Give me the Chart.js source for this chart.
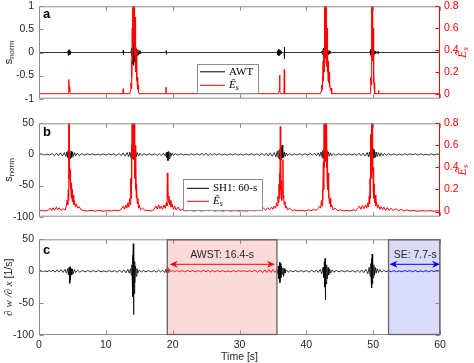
<!DOCTYPE html>
<html>
<head>
<meta charset="utf-8">
<script src="https://cdn.jsdelivr.net/npm/chart.js@4"></script>
<style>
  html, body { margin: 0; padding: 0; background: #fff; }
  #wrap { position: relative; width: 474px; height: 363px; overflow: hidden; }
  canvas { position: absolute; left: 0; }
</style>
</head>
<body>
<div id="wrap">
  <canvas id="pa" width="474" height="115" style="top:-5px"></canvas>
  <canvas id="pb" width="474" height="116" style="top:112px"></canvas>
  <canvas id="pc" width="474" height="135" style="top:228px"></canvas>
</div>
<script>
// ---- datos (tiempo [s], valor) ----
const xTicks = [0, 10, 20, 30, 40, 50, 60];
const sTicksA = [-1, -0.5, 0, 0.5, 1];
const sTicksB = [-100, -50, 0, 50];
const dwTicks = [-100, -50, 0, 50];
const esTicks = [0, 0.2, 0.4, 0.6, 0.8];

const awstSpan = [19.2, 35.6];
const seSpan = [52.3, 60];
const awstLabel = 'AWST: 16.4-s';
const seLabel = 'SE: 7.7-s';

// panel a: AWT (eje izq) y E_s (eje der)
const awtA = [[0,0],[4.2,0],[4.3,0.03],[4.35,-0.04],[4.4,0.05],[4.45,-0.06],[4.5,0.06],[4.55,-0.05],[4.6,0.05],[4.65,-0.04],[4.7,0.03],[4.75,-0.02],[4.8,0],
  [12.55,0],[12.6,0.05],[12.63,-0.05],[12.66,0],
  [13.7,0],[13.8,0.04],[13.85,-0.06],[13.9,0.1],[13.95,-0.12],[14.0,0.2],[14.05,-0.25],[14.1,0.3],[14.15,-0.28],[14.2,0.25],[14.25,-0.2],[14.3,0.15],[14.35,-0.13],[14.4,0.12],[14.45,-0.12],[14.5,0.1],[14.55,-0.1],[14.6,0.08],[14.7,-0.07],[14.8,0.06],[14.9,-0.05],[15.0,0.04],[15.1,-0.03],[15.2,0.02],[15.3,-0.01],[15.4,0],
  [19.0,0],[19.03,0.04],[19.06,-0.04],[19.09,0],
  [35.6,0],[35.7,0.03],[35.75,-0.05],[35.8,0.06],[35.85,-0.07],[35.9,0.07],[35.95,-0.06],[36.0,0.06],[36.05,-0.05],[36.1,0.04],[36.2,-0.03],[36.3,0.02],[36.4,0],
  [36.68,0],[36.7,0.12],[36.73,-0.14],[36.76,0],
  [42.2,0],[42.3,0.03],[42.4,-0.04],[42.5,0.06],[42.55,-0.08],[42.6,0.1],[42.65,-0.12],[42.7,0.15],[42.75,-0.14],[42.8,0.13],[42.85,-0.12],[42.9,0.1],[42.95,-0.1],[43.0,0.08],[43.1,-0.08],[43.2,0.06],[43.3,-0.05],[43.4,0.04],[43.5,-0.03],[43.6,0.02],[43.7,-0.01],[43.8,0],
  [49.5,0],[49.55,0.03],[49.6,-0.05],[49.65,0.07],[49.7,-0.09],[49.75,0.1],[49.8,-0.1],[49.85,0.09],[49.9,-0.08],[49.95,0.07],[50.0,-0.06],[50.1,0.05],[50.2,-0.04],[50.3,0.03],[50.4,-0.02],[50.5,0],
  [50.7,0],[50.72,0.03],[50.75,-0.03],[50.78,0],[60,0]];

const esA = [[0,0],[4.35,0],[4.42,0.04],[4.48,0.13],[4.52,0.06],[4.6,0.02],[4.7,0],
  [12.55,0],[12.6,0.045],[12.65,0],
  [13.6,0],[13.7,0.03],[13.75,0.1],[13.8,0.05],[13.85,0.3],[13.9,0.15],[13.95,0.6],[14.0,0.3],[14.03,1],[14.07,0.45],[14.1,1],[14.13,0.5],[14.17,1],[14.2,0.5],[14.23,1],[14.27,0.4],[14.3,0.9],[14.33,0.35],[14.37,0.7],[14.4,0.3],[14.45,0.55],[14.5,0.2],[14.55,0.4],[14.6,0.12],[14.65,0.25],[14.7,0.08],[14.75,0.15],[14.8,0.04],[14.85,0.08],[14.9,0.01],[15.0,0],
  [18.95,0],[19.0,0.06],[19.05,0],
  [35.85,0],[35.95,0.03],[36.0,0.17],[36.05,0.03],[36.1,0],
  [36.65,0],[36.7,0.22],[36.75,0],
  [42.1,0],[42.2,0.02],[42.3,0.08],[42.35,0.04],[42.4,0.15],[42.45,0.08],[42.5,0.3],[42.55,0.12],[42.6,0.4],[42.65,0.2],[42.7,1],[42.75,0.3],[42.8,1],[42.85,0.35],[42.9,1],[42.95,0.3],[43.0,1],[43.05,0.25],[43.1,0.6],[43.15,0.2],[43.2,0.35],[43.25,0.12],[43.3,0.3],[43.35,0.1],[43.4,0.2],[43.45,0.06],[43.5,0.12],[43.6,0.03],[43.7,0.05],[43.8,0],
  [49.55,0],[49.6,0.04],[49.65,0.15],[49.7,0.08],[49.75,0.5],[49.8,1],[49.85,0.3],[49.9,1],[49.95,0.4],[50.0,0.6],[50.05,0.1],[50.1,0.17],[50.15,0.05],[50.2,0.1],[50.25,0],
  [50.75,0],[50.8,0.03],[50.85,0],[60,0]];

// panel b: SH1 60-s (eje izq) y E_s (eje der)
const sh1B = [[0,0],[0.4,1],[0.8,-1],[1.2,0.5],[1.6,-1],[2.0,1.5],[2.3,-2],[2.6,2],[2.9,-2],[3.2,2.5],[3.5,-2.5],[3.8,3],[4.0,-3],[4.15,4],[4.25,-5],[4.35,6],[4.45,-9],[4.5,7],[4.55,-10],[4.6,8],[4.7,-7],[4.8,5],[4.9,-5],[5.0,4],[5.15,-3],[5.3,3],[5.5,-2],[5.7,2],[6.0,-1.5],[6.4,1],[6.8,-1],[7.2,1],[7.6,-0.5],[8.0,1],[8.4,-1],[8.8,0.5],[9.2,-1],[9.6,1],[10.0,-1],[10.4,1],[10.8,-0.5],[11.2,1],[11.6,-1.5],[12.0,1.5],[12.3,-2],[12.6,2.5],[12.9,-3],[13.2,3],[13.4,-3.5],[13.6,4],[13.75,-5],[13.85,6],[13.95,-7],[14.05,7],[14.15,-8],[14.25,6],[14.35,-6],[14.45,5],[14.55,-4],[14.7,3],[14.9,-2.5],[15.1,2],[15.4,-1.5],[15.7,1],[16.1,-1],[16.5,1],[16.9,-1],[17.3,1],[17.7,-1.5],[18.0,1.5],[18.3,-2],[18.6,2],[18.9,-2.5],[19.05,3],[19.15,-5],[19.25,4],[19.3,-10],[19.4,5],[19.5,-7],[19.6,3],[19.75,-3],[19.9,2],[20.1,-1.5],[20.4,1],[20.8,-1],[21.2,1],[21.6,-1],[22.0,0.5],[22.4,-1],[22.8,1],[23.2,-1],[23.6,1],[24.0,-1],[24.4,1.5],[24.7,-1.5],[25.0,2],[25.3,-2],[25.6,1.5],[25.9,-1.5],[26.2,1.5],[26.6,-1],[27.0,1],[27.4,-1],[27.8,0.5],[28.2,-1],[28.6,1],[29.0,-1],[29.4,1],[29.8,-1],[30.2,0.5],[30.6,-1],[31.0,1],[31.4,-1],[31.8,1],[32.2,-1],[32.6,1],[33.0,-1.5],[33.4,1.5],[33.7,-2],[34.0,2],[34.3,-2.5],[34.6,2.5],[34.9,-3],[35.2,3],[35.45,-4],[35.65,5],[35.8,-6],[35.9,7],[36.0,-8],[36.1,10],[36.2,-9],[36.3,12],[36.35,-6],[36.4,15],[36.45,-5],[36.5,8],[36.6,-5],[36.7,4],[36.85,-3],[37.0,2.5],[37.2,-2],[37.5,1.5],[37.8,-1],[38.2,1],[38.6,-1],[39.0,1],[39.4,-1],[39.8,1],[40.2,-1],[40.6,1.5],[40.9,-1.5],[41.2,2],[41.5,-2],[41.8,2.5],[42.0,-3],[42.2,4],[42.35,-5],[42.45,6],[42.55,-7],[42.65,9],[42.75,-6],[42.85,11],[42.95,-7],[43.05,7],[43.15,-5],[43.3,4],[43.45,-3],[43.6,2.5],[43.8,-2],[44.1,1.5],[44.4,-1.5],[44.8,1],[45.2,-1],[45.6,1],[46.0,-1],[46.4,1],[46.8,-1],[47.2,1],[47.6,-1.5],[47.9,2],[48.2,-2],[48.5,2],[48.8,-2.5],[49.1,3],[49.3,-3.5],[49.45,4],[49.55,-5],[49.65,7],[49.75,-7],[49.85,11],[49.9,-6],[50.0,9],[50.1,-6],[50.2,6],[50.3,-5],[50.45,4],[50.6,-3.5],[50.8,3],[51.0,-3],[51.2,2.5],[51.45,-2],[51.7,2],[52.0,-1.5],[52.3,1],[52.7,-1],[53.1,1],[53.5,-1],[53.9,0.5],[54.3,-1],[54.7,1],[55.1,-1],[55.5,1],[55.9,-0.5],[56.3,1],[56.7,-1],[57.1,1],[57.5,-1],[57.9,0.5],[58.3,-1],[58.7,1],[59.1,-1],[59.5,0.5],[60,0]];

const esB = [[0,0.005],[0.5,0.012],[1.0,0.004],[1.4,0.015],[1.7,0.03],[1.9,0.01],[2.1,0.035],[2.3,0.012],[2.6,0.04],[2.8,0.015],[3.0,0.035],[3.3,0.01],[3.6,0.025],[3.9,0.015],[4.1,0.05],[4.2,0.1],[4.3,0.06],[4.38,0.2],[4.43,0.1],[4.47,1],[4.5,0.3],[4.53,1],[4.56,0.35],[4.6,0.45],[4.64,0.25],[4.68,0.38],[4.72,0.2],[4.76,0.3],[4.8,0.15],[4.85,0.26],[4.9,0.12],[4.95,0.2],[5.0,0.09],[5.1,0.15],[5.2,0.06],[5.3,0.1],[5.45,0.04],[5.6,0.07],[5.8,0.03],[6.0,0.045],[6.3,0.015],[6.7,0.008],[7.2,0.004],[7.8,0.01],[8.4,0.004],[9.0,0.01],[9.6,0.003],[10.2,0.008],[10.8,0.004],[11.4,0.012],[11.9,0.006],[12.3,0.02],[12.6,0.05],[12.8,0.02],[13.0,0.06],[13.15,0.03],[13.3,0.08],[13.45,0.04],[13.55,0.12],[13.65,0.06],[13.72,0.3],[13.78,0.12],[13.83,0.6],[13.88,0.25],[13.93,1],[13.97,0.5],[14.0,1],[14.04,0.55],[14.08,1],[14.12,0.6],[14.16,1],[14.2,0.5],[14.24,1],[14.28,0.45],[14.32,0.85],[14.36,0.3],[14.4,0.6],[14.45,0.2],[14.5,0.4],[14.55,0.12],[14.6,0.25],[14.7,0.07],[14.8,0.12],[14.9,0.03],[15.0,0.06],[15.2,0.015],[15.5,0.03],[15.9,0.008],[16.3,0.012],[16.8,0.005],[17.2,0.02],[17.5,0.05],[17.7,0.02],[17.9,0.06],[18.1,0.025],[18.3,0.05],[18.5,0.02],[18.7,0.06],[18.9,0.03],[19.05,0.08],[19.15,0.05],[19.2,0.35],[19.25,0.12],[19.3,0.2],[19.35,0.08],[19.45,0.14],[19.55,0.06],[19.65,0.1],[19.75,0.04],[19.9,0.07],[20.1,0.02],[20.3,0.05],[20.5,0.015],[20.8,0.04],[21.1,0.01],[21.5,0.02],[22.0,0.005],[22.6,0.012],[23.2,0.004],[23.8,0.01],[24.4,0.004],[25.0,0.015],[25.4,0.006],[25.8,0.014],[26.3,0.004],[26.9,0.01],[27.5,0.003],[28.1,0.01],[28.7,0.004],[29.3,0.01],[29.9,0.003],[30.5,0.008],[31.1,0.004],[31.7,0.012],[32.3,0.005],[32.8,0.02],[33.2,0.008],[33.6,0.03],[33.9,0.012],[34.2,0.035],[34.5,0.015],[34.8,0.04],[35.0,0.02],[35.2,0.05],[35.4,0.03],[35.55,0.08],[35.65,0.05],[35.75,0.14],[35.82,0.08],[35.9,0.25],[35.95,0.12],[36.0,0.35],[36.05,0.15],[36.1,0.77],[36.14,0.2],[36.2,0.3],[36.25,0.12],[36.3,0.28],[36.35,0.1],[36.45,0.2],[36.5,0.47],[36.55,0.15],[36.62,0.12],[36.7,0.06],[36.8,0.09],[36.9,0.03],[37.0,0.05],[37.2,0.015],[37.5,0.03],[37.9,0.008],[38.3,0.015],[38.8,0.005],[39.3,0.012],[39.8,0.004],[40.3,0.015],[40.7,0.006],[41.1,0.02],[41.5,0.01],[41.8,0.03],[42.0,0.05],[42.15,0.03],[42.25,0.1],[42.35,0.05],[42.42,0.2],[42.48,0.1],[42.54,0.45],[42.6,0.2],[42.65,1],[42.7,0.4],[42.75,1],[42.8,0.5],[42.85,1],[42.9,0.45],[42.95,1],[43.0,0.4],[43.05,0.9],[43.1,0.3],[43.15,0.55],[43.2,0.2],[43.25,0.35],[43.3,0.12],[43.38,0.22],[43.45,0.07],[43.55,0.12],[43.65,0.04],[43.8,0.06],[44.0,0.015],[44.3,0.03],[44.7,0.008],[45.1,0.015],[45.6,0.004],[46.1,0.01],[46.6,0.005],[47.0,0.015],[47.4,0.006],[47.7,0.03],[47.95,0.05],[48.15,0.02],[48.4,0.055],[48.6,0.025],[48.85,0.06],[49.05,0.03],[49.2,0.08],[49.3,0.04],[49.4,0.14],[49.47,0.07],[49.53,0.3],[49.58,0.12],[49.63,0.7],[49.68,0.3],[49.72,1],[49.76,0.45],[49.8,1],[49.84,0.4],[49.88,1],[49.92,0.35],[49.96,0.6],[50.0,0.2],[50.05,0.4],[50.1,0.12],[50.15,0.25],[50.2,0.08],[50.3,0.15],[50.4,0.05],[50.5,0.09],[50.65,0.03],[50.8,0.06],[51.0,0.02],[51.2,0.045],[51.4,0.015],[51.6,0.04],[51.85,0.01],[52.1,0.035],[52.4,0.01],[52.7,0.03],[53.0,0.008],[53.4,0.025],[53.8,0.006],[54.2,0.02],[54.6,0.005],[55.0,0.015],[55.5,0.004],[56.1,0.01],[56.7,0.003],[57.3,0.008],[57.9,0.004],[58.5,0.008],[59.1,0.003],[59.6,0.006],[60,0.004]];

// panel c: dw/dx [1/s]
const dwBlack1 = [[0,0],[0.3,1],[0.6,-1],[0.9,0.5],[1.2,-1],[1.5,1],[1.8,-0.5],[2.1,1.5],[2.4,-1.5],[2.7,2],[3.0,-1.5],[3.3,2.5],[3.6,-2],[3.9,3],[4.1,-3],[4.3,4],[4.4,-6],[4.5,6],[4.6,-19],[4.65,7],[4.7,-14],[4.8,4],[4.9,-6],[5.0,3],[5.1,-4],[5.3,2.5],[5.5,-2],[5.8,1.5],[6.1,-1.5],[6.5,1],[6.9,-1],[7.3,1],[7.7,-1],[8.1,1],[8.5,-1],[8.9,1],[9.3,-1],[9.7,0.5],[10.1,-1],[10.5,1],[10.9,-1],[11.3,1],[11.7,-1.5],[12.1,1.5],[12.4,-2],[12.7,2],[13.0,-2.5],[13.3,3],[13.5,-3],[13.7,4],[13.8,-6],[13.9,10],[13.95,-15],[14.0,25],[14.05,-40],[14.1,43],[14.15,-68],[14.2,30],[14.25,-35],[14.3,15],[14.35,-18],[14.45,8],[14.55,-8],[14.65,4],[14.8,-3],[15.0,2],[15.3,-1.5],[15.6,1],[16.0,-1],[16.4,1],[16.8,-1],[17.2,1],[17.6,-1.5],[17.9,1.5],[18.2,-1],[18.5,1.5],[18.8,-2],[19.0,3],[19.1,-2],[19.2,5]];

const dwRed = [[19.2,5],[19.25,-3],[19.3,6],[19.4,-2],[19.5,3],[19.7,-1],[20.0,1.5],[20.3,-1],[20.6,1],[21.0,-1],[21.4,1],[21.8,-1],[22.2,1],[22.6,-0.5],[23.0,1],[23.4,-1],[23.8,1],[24.2,-1],[24.6,1.5],[25.0,-1],[25.3,1.5],[25.6,-1.5],[25.9,1],[26.3,-1],[26.7,1],[27.1,-1],[27.5,1],[27.9,-1],[28.3,0.5],[28.7,-1],[29.1,1],[29.5,-1],[29.9,1],[30.3,-0.5],[30.7,1],[31.1,-1],[31.5,1],[31.9,-1],[32.3,1.5],[32.7,-1.5],[33.1,1.5],[33.5,-2],[33.8,2],[34.1,-2],[34.4,2.5],[34.7,-2],[35.0,2.5],[35.3,-2],[35.6,2]];

const dwBlack2 = [[35.6,2],[35.7,-4],[35.8,8],[35.9,-12],[36.0,14],[36.05,-18],[36.1,12],[36.2,-10],[36.3,8],[36.4,-5],[36.5,5],[36.6,-8],[36.7,4],[36.8,-3],[37.0,2],[37.3,-1.5],[37.6,1],[38.0,-1],[38.4,1],[38.8,-1],[39.2,1],[39.6,-1],[40.0,1],[40.4,-1.5],[40.8,1.5],[41.2,-1.5],[41.5,2],[41.8,-2],[42.1,3],[42.3,-4],[42.5,6],[42.6,-10],[42.7,15],[42.75,-25],[42.8,20],[42.85,-45],[42.9,12],[42.95,-20],[43.05,10],[43.15,-12],[43.25,6],[43.35,-6],[43.5,3],[43.65,-3],[43.85,2],[44.1,-1.5],[44.5,1],[44.9,-1],[45.3,1],[45.7,-1],[46.1,1],[46.5,-1],[46.9,1],[47.3,-1.5],[47.7,1.5],[48.0,-2],[48.3,2],[48.6,-2],[48.9,3],[49.2,-4],[49.4,6],[49.55,-8],[49.65,12],[49.7,-15],[49.75,20],[49.8,-26],[49.85,27],[49.9,-20],[49.95,18],[50.0,-10],[50.1,10],[50.2,-6],[50.3,6],[50.45,-3],[50.6,4],[50.8,-2],[51.0,2.5],[51.3,-1.5],[51.6,1.5],[51.9,-1],[52.3,1]];

const dwBlue = [[52.3,1],[52.7,-1],[53.1,1],[53.5,-1],[53.9,0.5],[54.3,-1],[54.7,1],[55.1,-0.5],[55.5,1],[55.9,-1],[56.3,1],[56.7,-1],[57.1,0.5],[57.5,-1],[57.9,1],[58.3,-1],[58.7,1],[59.1,-0.5],[59.5,1],[60,0]];

// ---- estilos ----
const SANS = '"Liberation Sans", Arial, sans-serif';
const SERIF = '"Liberation Serif", "Times New Roman", serif';
const INK = '#262626';
const BOX = '#8c8c8c';
const RED = '#ff0000';
const BLUE = '#0000ff';
const tickFont = { family: SANS, size: 10.5 };

const snormParts = [{ t: 's', f: '11px ' + SANS }, { t: 'norm', f: '8px ' + SANS, dy: 3 }];
const esParts = size => [{ t: 'Ê', f: 'italic ' + size + 'px ' + SERIF }, { t: 's', f: 'italic ' + Math.round(size * 0.72) + 'px ' + SERIF, dy: 3 }];
const dwParts = [{ t: '∂ w /∂ x ', f: 'italic 11px ' + SERIF }, { t: '[1/s]', f: '10.5px ' + SANS }];

// ---- helpers de dibujo ----
function partsWidth(ctx, parts) {
  let w = 0;
  parts.forEach(p => { ctx.font = p.f; w += ctx.measureText(p.t).width; });
  return w;
}
function drawParts(ctx, x, y, parts, color) {
  ctx.fillStyle = color;
  ctx.textBaseline = 'middle';
  ctx.textAlign = 'left';
  parts.forEach(p => {
    ctx.font = p.f;
    ctx.fillText(p.t, x, y + (p.dy || 0));
    x += ctx.measureText(p.t).width;
  });
}
function drawRotated(ctx, cx, cy, parts, color) {
  ctx.save();
  ctx.translate(cx, cy);
  ctx.rotate(-Math.PI / 2);
  drawParts(ctx, -partsWidth(ctx, parts) / 2, 0, parts, color);
  ctx.restore();
}
function drawArrow(ctx, x1, x2, y, color) {
  ctx.save();
  ctx.strokeStyle = color;
  ctx.fillStyle = color;
  ctx.lineWidth = 1;
  ctx.beginPath();
  ctx.moveTo(x1 + 4, y);
  ctx.lineTo(x2 - 4, y);
  ctx.stroke();
  [[x1, 1], [x2, -1]].forEach(([x, d]) => {
    ctx.beginPath();
    ctx.moveTo(x, y);
    ctx.lineTo(x + d * 8, y - 3.5);
    ctx.lineTo(x + d * 5.5, y);
    ctx.lineTo(x + d * 8, y + 3.5);
    ctx.closePath();
    ctx.fill();
  });
  ctx.restore();
}

function drawFrame(chart, o) {
  const { ctx, chartArea: a, scales } = chart;
  const L = a.left + 0.5, R = a.right - 0.5, T = a.top + 0.5, B = a.bottom - 0.5;
  ctx.save();
  ctx.lineWidth = 1;
  ctx.strokeStyle = BOX;
  ctx.beginPath();
  ctx.moveTo(R, T); ctx.lineTo(L, T); ctx.lineTo(L, B); ctx.lineTo(R, B);
  if (!o.right) ctx.lineTo(R, T);
  xTicks.forEach(v => {
    const px = Math.round(scales.x.getPixelForValue(v)) + 0.5;
    ctx.moveTo(px, B); ctx.lineTo(px, B - 4);
    ctx.moveTo(px, T); ctx.lineTo(px, T + 4);
  });
  o.leftTicks.forEach(v => {
    const py = Math.round(scales.y.getPixelForValue(v)) + 0.5;
    ctx.moveTo(L, py); ctx.lineTo(L + 4, py);
    if (!o.right) { ctx.moveTo(R, py); ctx.lineTo(R - 4, py); }
  });
  ctx.stroke();
  if (o.right) {
    ctx.strokeStyle = RED;
    ctx.beginPath();
    ctx.moveTo(R, T); ctx.lineTo(R, B);
    esTicks.forEach(v => {
      const py = Math.round(scales.y2.getPixelForValue(v)) + 0.5;
      ctx.moveTo(R, py); ctx.lineTo(R - 4, py);
    });
    ctx.stroke();
  }
  ctx.restore();
}

function drawLegend(ctx, a, lg) {
  const x = a.left + lg.dx, y = a.top + lg.dy;
  ctx.save();
  ctx.fillStyle = '#fff';
  ctx.fillRect(x, y, lg.w, lg.h);
  ctx.strokeStyle = BOX;
  ctx.lineWidth = 1;
  ctx.strokeRect(Math.round(x) + 0.5, Math.round(y) + 0.5, lg.w, lg.h);
  lg.rows.forEach((r, i) => {
    const ry = y + lg.rowY[i];
    ctx.strokeStyle = r.color;
    ctx.lineWidth = 1;
    ctx.beginPath();
    ctx.moveTo(x + lg.line[0], ry);
    ctx.lineTo(x + lg.line[1], ry);
    ctx.stroke();
    drawParts(ctx, x + lg.text, ry, r.parts, '#000');
  });
  ctx.restore();
}

function makeDecor(o) {
  return {
    id: 'decor',
    beforeDatasetsDraw(chart) {
      if (!o.spans) return;
      const { ctx, chartArea: a, scales } = chart;
      ctx.save();
      o.spans.forEach(s => {
        const x1 = scales.x.getPixelForValue(s.range[0]);
        const x2 = scales.x.getPixelForValue(s.range[1]);
        ctx.fillStyle = s.fill;
        ctx.fillRect(x1, a.top, x2 - x1, a.bottom - a.top);
      });
      ctx.restore();
    },
    afterDatasetsDraw(chart) {
      const { ctx, chartArea: a, scales } = chart;
      drawFrame(chart, o);
      if (o.spans) {
        ctx.save();
        o.spans.forEach(s => {
          const x1 = scales.x.getPixelForValue(s.range[0]);
          const x2 = scales.x.getPixelForValue(s.range[1]);
          ctx.strokeStyle = '#6b6262';
          ctx.lineWidth = 1.3;
          ctx.strokeRect(x1, a.top + 0.5, x2 - x1, a.bottom - a.top - 1);
          drawArrow(ctx, x1 + s.inset[0], x2 - s.inset[1], a.top + 25, s.color);
          ctx.font = '10.5px ' + SANS;
          ctx.fillStyle = INK;
          ctx.textAlign = 'center';
          ctx.textBaseline = 'middle';
          ctx.fillText(s.label, (x1 + x2) / 2 + (s.shift || 0), a.top + 16);
        });
        ctx.restore();
      }
      if (o.legend) drawLegend(ctx, a, o.legend);
      ctx.save();
      ctx.font = 'bold 13px ' + SANS;
      ctx.fillStyle = '#000';
      ctx.textAlign = 'left';
      ctx.textBaseline = 'alphabetic';
      ctx.fillText(o.letter, 43, a.top + o.letterDy);
      ctx.restore();
      const cy = (a.top + a.bottom) / 2;
      drawRotated(ctx, 9, cy, o.leftTitle, INK);
      if (o.right) drawRotated(ctx, 463, cy, esParts(12), RED);
    }
  };
}

// ---- ejes ----
const fmt = v => String(v);
function leftAxis(min, max, ticks) {
  return {
    position: 'left', min: min, max: max,
    afterBuildTicks: s => { s.ticks = ticks.map(v => ({ value: v })); },
    afterFit: s => { s.width = 39; },
    grid: { display: false, drawTicks: false },
    border: { display: false },
    ticks: { font: tickFont, color: INK, padding: 5, callback: fmt }
  };
}
function rightAxis(min) {
  return {
    position: 'right', min: min, max: 0.8,
    afterBuildTicks: s => { s.ticks = esTicks.map(v => ({ value: v })); },
    afterFit: s => { s.width = 34; },
    grid: { display: false, drawTicks: false },
    border: { display: false },
    ticks: { font: tickFont, color: RED, padding: 4, callback: fmt }
  };
}
const hiddenX = { type: 'linear', min: 0, max: 60, display: false };

function series(points, color, width, axis, order) {
  return {
    data: points.map(p => ({ x: p[0], y: p[1] })),
    borderColor: color, borderWidth: width, pointRadius: 0,
    fill: false, tension: 0, yAxisID: axis, order: order, clip: 0
  };
}
const common = {
  responsive: false, animation: false, events: [],
  plugins: { legend: { display: false }, tooltip: { enabled: false } }
};

// panel a
new Chart(document.getElementById('pa'), {
  type: 'line',
  data: { datasets: [series(awtA, '#000', 0.8, 'y', 1), series(esA, RED, 1, 'y2', 0)] },
  options: Object.assign({}, common, {
    layout: { padding: { top: 10, bottom: 8, left: 0, right: 0 } },
    scales: { x: hiddenX, y: leftAxis(-1, 1, sTicksA), y2: rightAxis(-0.046) }
  }),
  plugins: [makeDecor({
    letter: 'a', letterDy: 12, leftTicks: sTicksA, right: true, leftTitle: snormParts,
    legend: { dx: 158, dy: 58, w: 61, h: 29, rowY: [7.5, 21], line: [3, 28], text: 32,
      rows: [{ color: '#000', parts: [{ t: 'AWT', f: '11px ' + SERIF }] }, { color: RED, parts: esParts(11) }] }
  })]
});

// panel b
new Chart(document.getElementById('pb'), {
  type: 'line',
  data: { datasets: [series(sh1B, '#000', 0.8, 'y', 1), series(esB, RED, 1, 'y2', 0)] },
  options: Object.assign({}, common, {
    layout: { padding: { top: 10, bottom: 9, left: 0, right: 0 } },
    scales: { x: hiddenX, y: leftAxis(-100, 50, sTicksB), y2: rightAxis(-0.047) }
  }),
  plugins: [makeDecor({
    letter: 'b', letterDy: 13, leftTicks: sTicksB, right: true, leftTitle: snormParts,
    legend: { dx: 144, dy: 56, w: 79, h: 31, rowY: [9, 22], line: [4, 26], text: 30,
      rows: [{ color: '#000', parts: [{ t: 'SH1: 60-s', f: '11px ' + SERIF }] }, { color: RED, parts: esParts(11) }] }
  })]
});

// panel c
new Chart(document.getElementById('pc'), {
  type: 'line',
  data: { datasets: [
    series(dwBlack1, '#000', 0.8, 'y', 0),
    series(dwRed, RED, 0.9, 'y', 0),
    series(dwBlack2, '#000', 0.8, 'y', 0),
    series(dwBlue, BLUE, 0.9, 'y', 0)
  ] },
  options: Object.assign({}, common, {
    layout: { padding: { top: 9, bottom: 0, left: 0, right: 34 } },
    scales: {
      x: {
        type: 'linear', min: 0, max: 60, position: 'bottom',
        afterBuildTicks: s => { s.ticks = xTicks.map(v => ({ value: v })); },
        afterFit: s => { s.height = 28; },
        grid: { display: false, drawTicks: false },
        border: { display: false },
        ticks: { font: tickFont, color: INK, padding: 4, maxRotation: 0, callback: fmt },
        title: { display: true, text: 'Time [s]', font: { family: SANS, size: 10.5 }, color: INK, padding: { top: 0, bottom: 0 } }
      },
      y: leftAxis(-100, 50, dwTicks)
    }
  }),
  plugins: [makeDecor({
    letter: 'c', letterDy: 15, leftTicks: dwTicks, right: false, leftTitle: dwParts,
    spans: [
      { range: awstSpan, fill: 'rgba(250, 205, 205, 0.75)', color: RED, label: awstLabel, inset: [2.5, 2] },
      { range: seSpan, fill: 'rgba(205, 205, 248, 0.75)', color: BLUE, label: seLabel, inset: [1, 0], shift: 1 }
    ]
  })]
});
</script>
</body>
</html>
